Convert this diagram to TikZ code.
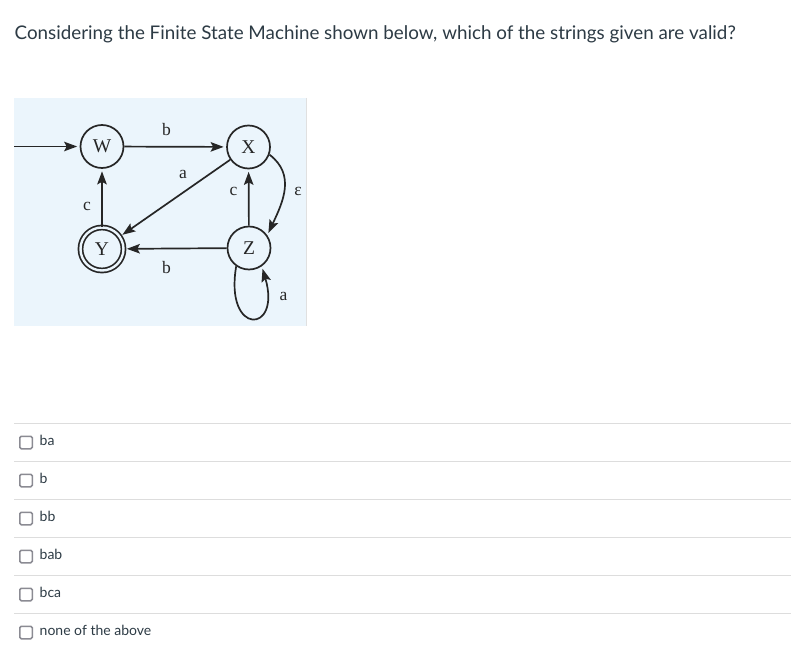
\documentclass[tikz,border=0pt]{standalone}
\usepackage{fontspec}
\setmainfont{Lato}
\newfontfamily\diagfont{Liberation Serif}
\usetikzlibrary{arrows.meta}
\definecolor{txt}{HTML}{2D3B45}
\definecolor{bgblue}{HTML}{EBF5FC}
\definecolor{rule}{HTML}{DDDDDD}
\definecolor{boxgray}{HTML}{8B8B93}
\definecolor{ink}{HTML}{262626}
\tikzset{
  state/.style={circle,draw=ink,line width=1.7pt,minimum size=43pt,inner sep=0pt,text=ink,font=\diagfont\fontsize{19.5}{19.5}\selectfont},
  accept/.style={state,double=bgblue,double distance=2.4pt},
  edge/.style={draw=ink,line width=1.7pt,-{Stealth[length=13pt,width=9.5pt,inset=2.5pt]},shorten >=2.5pt},
  elab/.style={text=ink,font=\diagfont\fontsize{17.5}{17.5}\selectfont,inner sep=0pt},
  chk/.style={draw=boxgray,line width=1.5pt,rounded corners=1.5pt,minimum size=12.5pt,inner sep=0pt},
  opt/.style={anchor=base west,text=txt,font=\fontsize{14}{14}\selectfont,inner sep=0pt},
  sep/.style={draw=rule,line width=0.9pt}
}
\begin{document}
\begin{tikzpicture}[x=1pt,y=-1pt]
\useasboundingbox[fill=white] (0,0) rectangle (791,663);
% title
\node[anchor=base west,text=txt,font=\fontsize{18.8}{19}\selectfont,inner sep=0pt] (title) at (14.5,40) {Considering the Finite State Machine shown below, which of the strings given are valid?};
% diagram background
\fill[bgblue] (14,98) rectangle (307,326);
\draw[black!12,line width=0.8pt] (306.5,98) -- (306.5,326);
% states
\node[state] (W) at (102,146.5) {W};
\node[state] (X) at (248.5,147) {X};
\node[accept] (Y) at (102,249) {Y};
\node[state] (Z) at (249,248) {Z};
\coordinate (start) at (14,146.5);
% edges
\draw[edge] (start) -- (W);
\draw[edge] (W) -- (X);
\draw[edge] (X) -- (Y);
\draw[edge] (Y) -- (W);
\draw[edge] (Z) -- (X);
\draw[edge] (Z) -- (Y);
\draw[edge] (X.-20) .. controls +(26,20) and +(16,-34) .. (Z.35);
\draw[edge] (Z.235) .. controls +(-12,70) and +(20,68) .. (Z.305);
% labels
\node[elab] (lb1) at (166.5,130) {b};
\node[elab] (la1) at (183,174) {a};
\node[elab] (lc1) at (87,206) {c};
\node[elab] (lc2) at (233.5,191.5) {c};
\node[elab] (le) at (298,191.5) {ε};
\node[elab] (lb2) at (166.5,268) {b};
\node[elab] (la2) at (283.5,296.5) {a};
% options
\draw[sep] (14,423.5) -- (791,423.5);
\draw[sep] (14,461.5) -- (791,461.5);
\draw[sep] (14,499.5) -- (791,499.5);
\draw[sep] (14,537.5) -- (791,537.5);
\draw[sep] (14,575.5) -- (791,575.5);
\draw[sep] (14,613.5) -- (791,613.5);
\node[chk] (c1) at (26,442.5) {};
\node[chk] (c2) at (26,480.5) {};
\node[chk] (c3) at (26,518.5) {};
\node[chk] (c4) at (26,556.5) {};
\node[chk] (c5) at (26,594.5) {};
\node[chk] (c6) at (26,632.5) {};
\node[opt] (o1) at (39.5,445.5) {ba};
\node[opt] (o2) at (39.5,483.5) {b};
\node[opt] (o3) at (39.5,521.5) {bb};
\node[opt] (o4) at (39.5,559.5) {bab};
\node[opt] (o5) at (39.5,597.5) {bca};
\node[opt] (o6) at (39.5,635.5) {none of the above};
\end{tikzpicture}
\end{document}
